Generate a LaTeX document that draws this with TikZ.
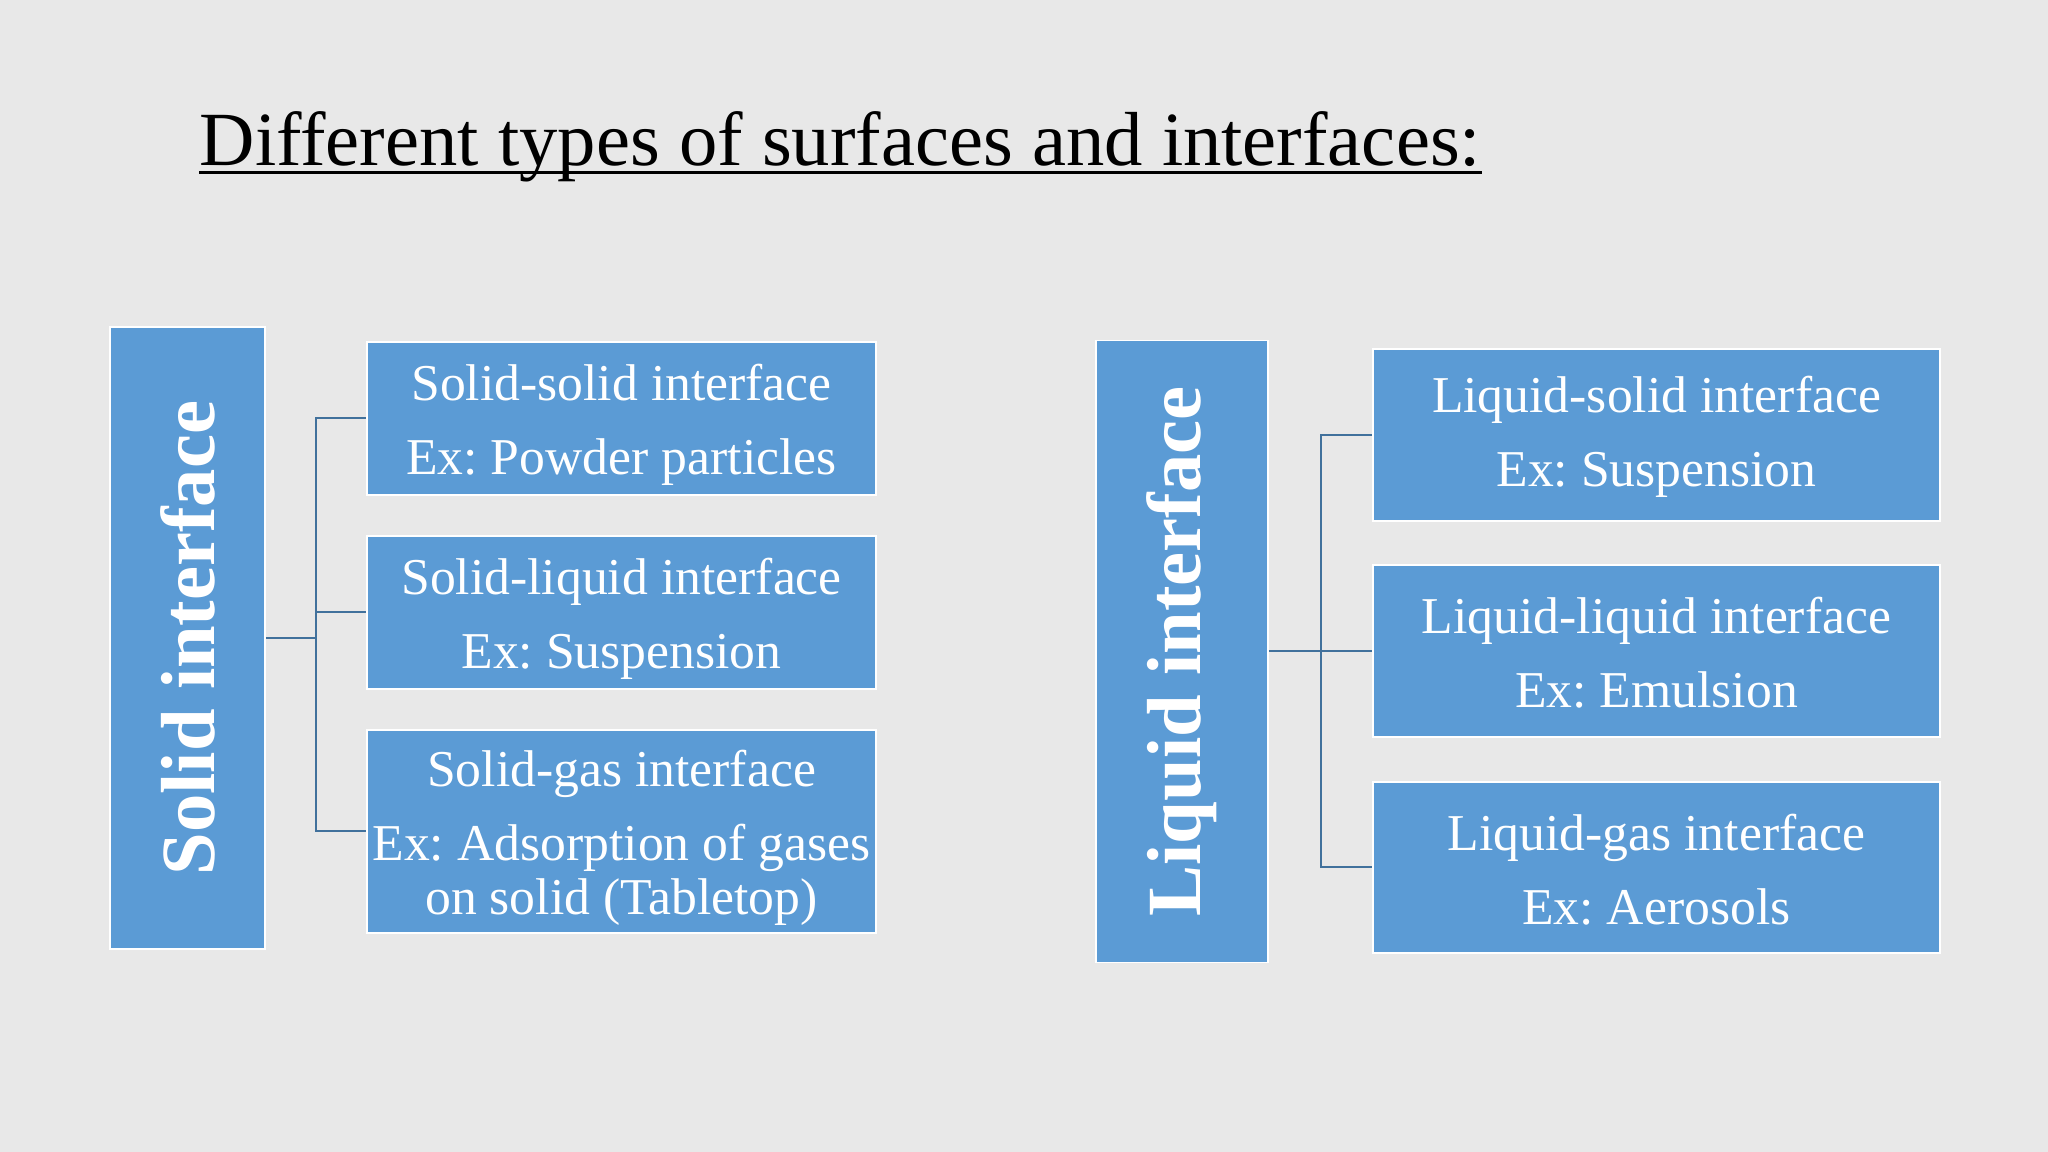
\documentclass[tikz,border=0pt]{standalone}
\usepackage{fontspec}
\setmainfont{Liberation Serif}
\frenchspacing
\definecolor{bgcol}{HTML}{E8E8E8}
\definecolor{boxblue}{HTML}{5B9BD5}
\definecolor{linkblue}{HTML}{41719C}
\newcommand{\topstrut}[1][14pt]{\rule{0pt}{#1}}
\begin{document}
\begin{tikzpicture}[x=0.1mm,y=-0.1mm,
  bigbox/.style={draw=white,line width=0.15mm,fill=boxblue,
    minimum height=62.2mm,inner sep=0pt},
  bigtext/.style={rotate=90,text=white,font=\fontsize{21.8}{26}\selectfont\bfseries},
  subbox/.style={draw=white,line width=0.15mm,fill=boxblue,text=white,
    align=center,inner sep=0pt,
    font=\fontsize{14.7}{15.4}\selectfont},
  link/.style={draw=linkblue,line width=0.2mm}]
  \useasboundingbox[fill=bgcol] (0,0) rectangle (2048,1152);
  % title
  \node[anchor=base west,inner sep=0pt,font=\fontsize{21.8}{26}\selectfont] (title) at (199,166)
    {Different types of surfaces and interfaces:};
  \draw[line width=0.3mm] ([yshift=-0.65mm]title.base west) -- ([yshift=-0.65mm]title.base east);
  % solid side
  \node[bigbox,minimum width=15.5mm] (solid) at (187.5,638) {};
  \node[bigtext] (solidtxt) at (solid.center) {Solid interface};
  \node[subbox,minimum width=50.9mm,minimum height=15.3mm] (ss) at (621.5,418.5)
    {\topstrut Solid-solid interface\\[5.6pt]Ex: Powder particles};
  \node[subbox,minimum width=50.9mm,minimum height=15.3mm] (sl) at (621.5,612.5)
    {\topstrut Solid-liquid interface\\[5.6pt]Ex: Suspension};
  \node[subbox,minimum width=50.9mm,minimum height=20.3mm] (sg) at (621.5,831.5)
    {\topstrut Solid-gas interface\\[5.6pt]Ex: Adsorption of gases\\on solid (Tabletop)};
  \coordinate (js) at (316,638);
  \draw[link] (solid.east) -- (js);
  \draw[link] (js) |- (ss.west);
  \draw[link] (js) |- (sl.west);
  \draw[link] (js) |- (sg.west);
  % liquid side
  \node[bigbox,minimum width=17.2mm] (liquid) at (1182,651.5) {};
  \node[bigtext] (liquidtxt) at (liquid.center) {Liquid interface};
  \node[subbox,minimum width=56.7mm,minimum height=17.2mm] (ls) at (1656.5,435)
    {\topstrut[11.5pt]Liquid-solid interface\\[5.6pt]Ex: Suspension};
  \node[subbox,minimum width=56.7mm,minimum height=17.2mm] (ll) at (1656.5,651)
    {\topstrut[11.5pt]Liquid-liquid interface\\[5.6pt]Ex: Emulsion};
  \node[subbox,minimum width=56.7mm,minimum height=17.1mm] (lg) at (1656.5,867.5)
    {\topstrut[11.5pt]Liquid-gas interface\\[5.6pt]Ex: Aerosols};
  \coordinate (jl) at (1321,651.5);
  \draw[link] (liquid.east) -- (jl);
  \draw[link] (jl) |- (ls.west);
  \draw[link] (jl) |- (ll.west);
  \draw[link] (jl) |- (lg.west);
\end{tikzpicture}
\end{document}
